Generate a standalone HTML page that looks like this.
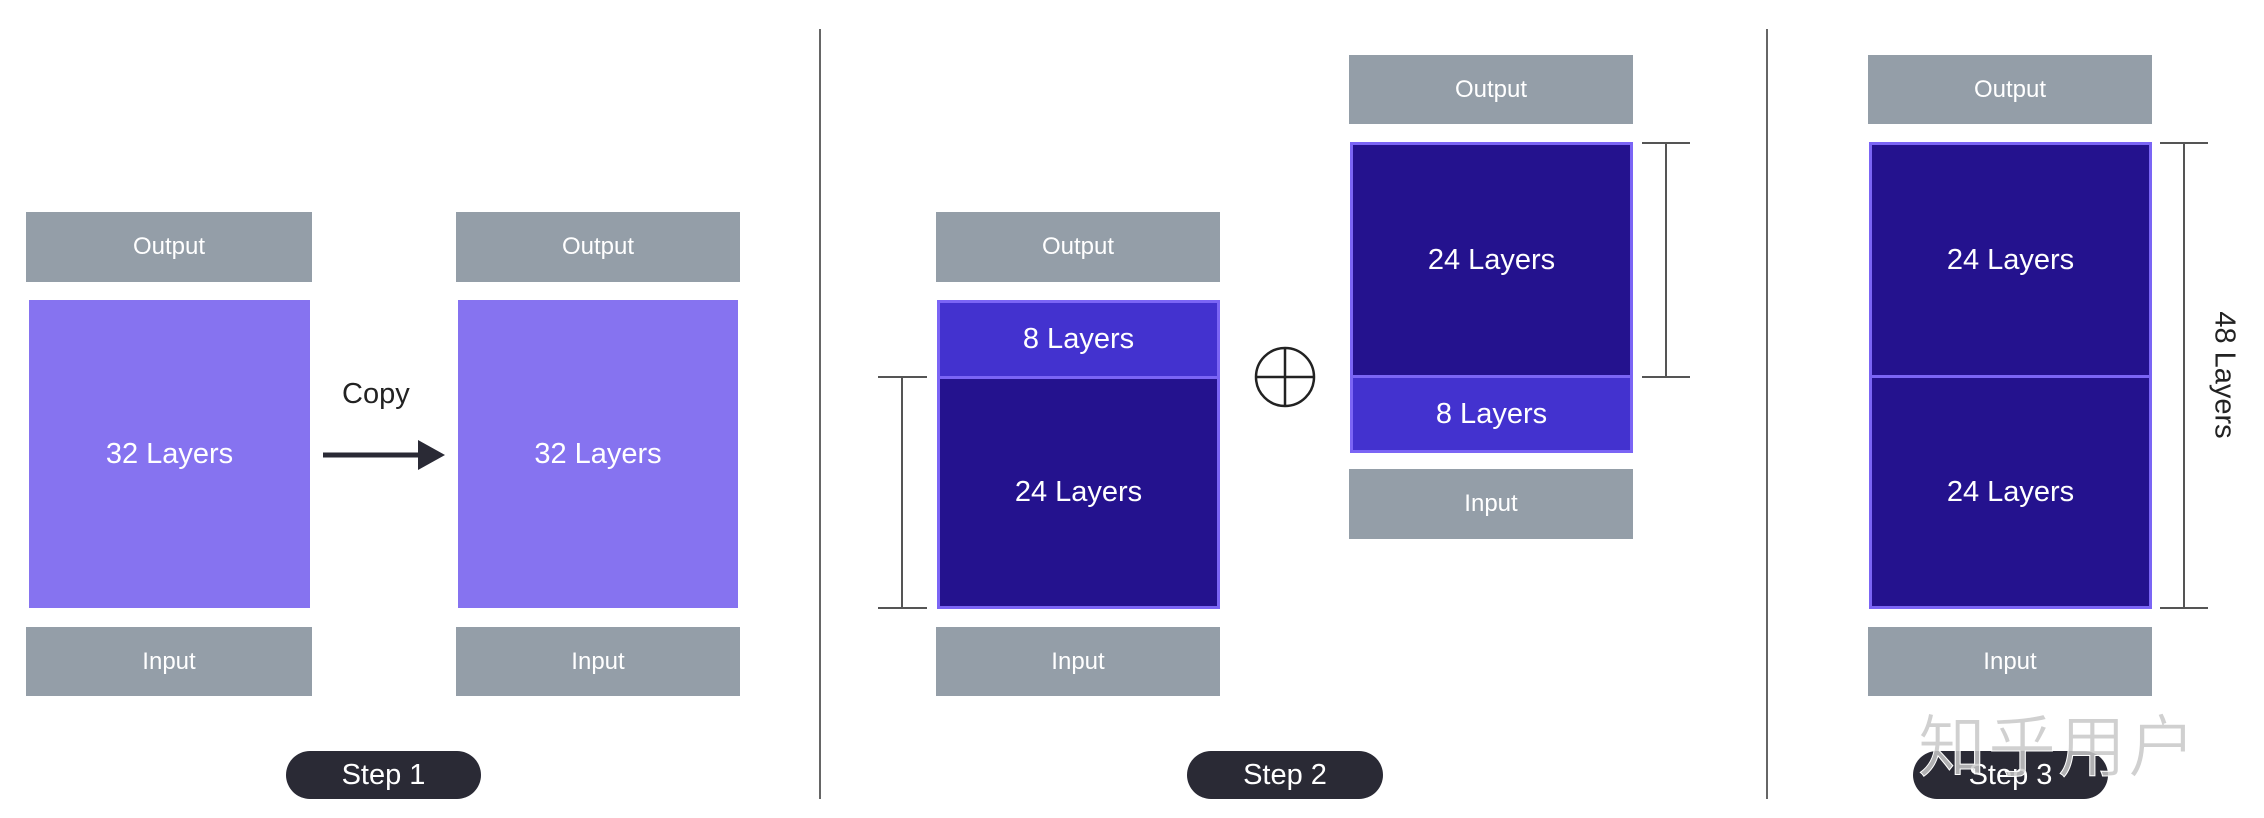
<!DOCTYPE html>
<html><head><meta charset="utf-8"><style>
body{margin:0;width:2264px;height:818px;background:#fff;position:relative;overflow:hidden;font-family:"Liberation Sans","Noto Sans CJK SC",sans-serif}
.b{position:absolute;display:flex;align-items:center;justify-content:center;color:#fff;box-sizing:border-box}
.g{background:#949ea8;font-size:24px}
.p{background:#8673f0;font-size:29px}
.d{background:#24128e;border:3px solid #7b65f5;font-size:29px}
.m{background:#4332cf;border:3px solid #7b65f5;font-size:29px}
.pill{background:#2a2a35;border-radius:24px;font-size:29px}
</style></head><body>
<div class="b g" style="left:26px;top:212px;width:286px;height:70px">Output</div>
<div class="b p" style="left:29px;top:300px;width:281px;height:308px">32 Layers</div>
<div class="b g" style="left:26px;top:627px;width:286px;height:69px">Input</div>
<div class="b g" style="left:456px;top:212px;width:284px;height:70px">Output</div>
<div class="b p" style="left:458px;top:300px;width:280px;height:308px">32 Layers</div>
<div class="b g" style="left:456px;top:627px;width:284px;height:69px">Input</div>
<div style="position:absolute;left:342px;top:378px;font-size:29px;color:#222">Copy</div>
<svg style="position:absolute;left:0;top:0" width="2264" height="818">
<line x1="323" y1="455" x2="420" y2="455" stroke="#2a2a35" stroke-width="5"/>
<polygon points="418,440 445,455 418,470" fill="#2a2a35"/>
<line x1="820" y1="29" x2="820" y2="799" stroke="#666" stroke-width="2"/>
<line x1="1767" y1="29" x2="1767" y2="799" stroke="#666" stroke-width="2"/>
<g stroke="#555" stroke-width="2" fill="none">
<line x1="878" y1="377" x2="927" y2="377"/><line x1="878" y1="608" x2="927" y2="608"/><line x1="902" y1="377" x2="902" y2="608"/>
<line x1="1642" y1="143" x2="1690" y2="143"/><line x1="1642" y1="377" x2="1690" y2="377"/><line x1="1666" y1="143" x2="1666" y2="377"/>
<line x1="2160" y1="143" x2="2208" y2="143"/><line x1="2160" y1="608" x2="2208" y2="608"/><line x1="2184" y1="143" x2="2184" y2="608"/>
</g>
<g stroke="#222" stroke-width="2.5" fill="none">
<circle cx="1285" cy="377" r="29"/><line x1="1256" y1="377" x2="1314" y2="377"/><line x1="1285" y1="348" x2="1285" y2="406"/>
</g>
</svg>
<div class="b pill" style="left:286px;top:751px;width:195px;height:48px">Step 1</div>
<div class="b g" style="left:936px;top:212px;width:284px;height:70px">Output</div>
<div class="b m" style="left:937px;top:300px;width:283px;height:79px">8 Layers</div>
<div class="b d" style="left:937px;top:376px;width:283px;height:233px">24 Layers</div>
<div class="b g" style="left:936px;top:627px;width:284px;height:69px">Input</div>
<div class="b g" style="left:1349px;top:55px;width:284px;height:69px">Output</div>
<div class="b d" style="left:1350px;top:142px;width:283px;height:236px">24 Layers</div>
<div class="b m" style="left:1350px;top:375px;width:283px;height:78px">8 Layers</div>
<div class="b g" style="left:1349px;top:469px;width:284px;height:70px">Input</div>
<div class="b pill" style="left:1187px;top:751px;width:196px;height:48px">Step 2</div>
<div class="b g" style="left:1868px;top:55px;width:284px;height:69px">Output</div>
<div class="b d" style="left:1869px;top:142px;width:283px;height:236px">24 Layers</div>
<div class="b d" style="left:1869px;top:375px;width:283px;height:234px">24 Layers</div>
<div class="b g" style="left:1868px;top:627px;width:284px;height:69px">Input</div>
<div style="position:absolute;left:2224px;top:375px;transform:translate(-50%,-50%) rotate(90deg);font-size:29px;color:#222;white-space:nowrap">48 Layers</div>
<div class="b pill" style="left:1913px;top:751px;width:195px;height:48px">Step 3</div>
<div style="position:absolute;left:1918px;top:692px;font-size:68px;color:rgba(200,200,200,0.85);-webkit-text-stroke:1px #fff;letter-spacing:2px">知乎用户</div>
</body></html>
